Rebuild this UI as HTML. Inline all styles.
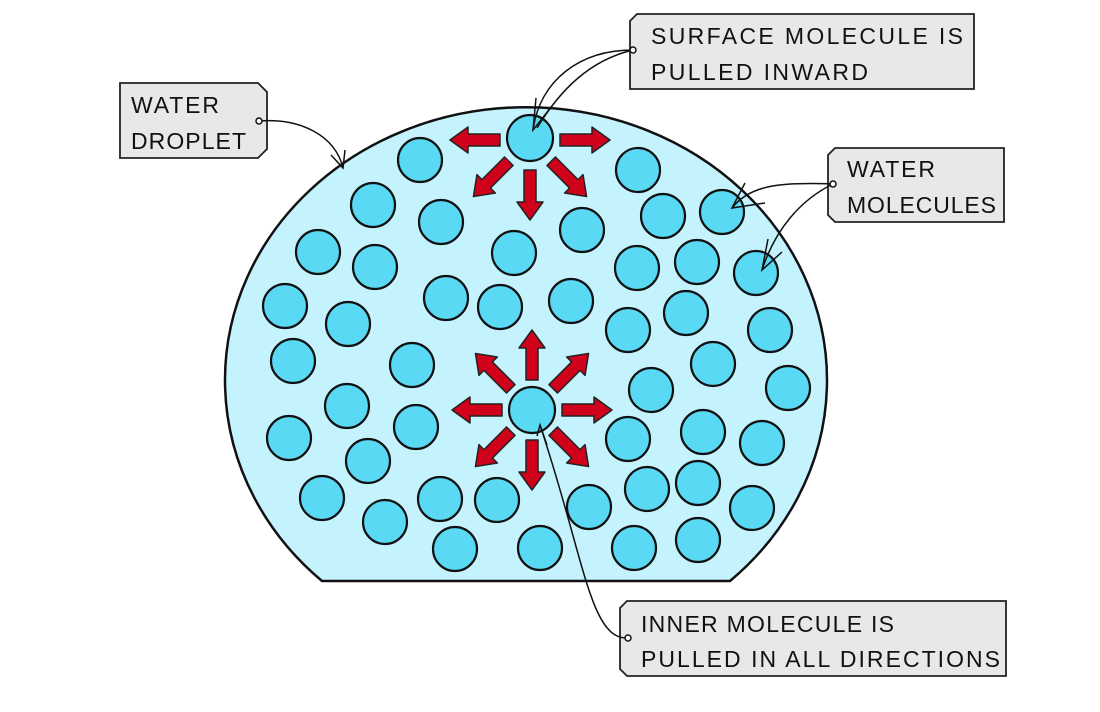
<!DOCTYPE html>
<html><head><meta charset="utf-8"><style>
html,body{margin:0;padding:0;background:#fff;}
svg{display:block;}
text{font-family:"Liberation Sans",sans-serif;font-size:23px;fill:#111;}
</style></head><body>
<svg width="1100" height="712" viewBox="0 0 1100 712" xmlns="http://www.w3.org/2000/svg">
<defs>
<g id="ar"><polygon points="30,-6 62,-6 62,-13 80,0 62,13 62,6 30,6" fill="#d0021b" stroke="#222" stroke-width="1.5" stroke-linejoin="round"/></g>
</defs>
<path d="M322,581 A301,273 0 1 1 730,581 Z" fill="#c4f3fd" stroke="#111" stroke-width="2.5"/>
<g fill="#5ad9f4" stroke="#111" stroke-width="2.2">
<circle cx="530" cy="138" r="23"/><circle cx="532" cy="410" r="23"/>
<circle cx="420" cy="160" r="22"/><circle cx="373" cy="205" r="22"/><circle cx="441" cy="222" r="22"/>
<circle cx="318" cy="252" r="22"/><circle cx="375" cy="267" r="22"/><circle cx="285" cy="306" r="22"/>
<circle cx="348" cy="324" r="22"/><circle cx="293" cy="361" r="22"/><circle cx="412" cy="365" r="22"/>
<circle cx="347" cy="406" r="22"/><circle cx="289" cy="438" r="22"/><circle cx="416" cy="427" r="22"/>
<circle cx="368" cy="461" r="22"/><circle cx="322" cy="498" r="22"/><circle cx="385" cy="522" r="22"/>
<circle cx="440" cy="499" r="22"/><circle cx="455" cy="549" r="22"/><circle cx="497" cy="500" r="22"/>
<circle cx="540" cy="548" r="22"/><circle cx="589" cy="507" r="22"/><circle cx="634" cy="548" r="22"/>
<circle cx="698" cy="540" r="22"/><circle cx="647" cy="489" r="22"/><circle cx="698" cy="483" r="22"/>
<circle cx="752" cy="508" r="22"/><circle cx="628" cy="439" r="22"/><circle cx="703" cy="432" r="22"/>
<circle cx="762" cy="443" r="22"/><circle cx="651" cy="390" r="22"/><circle cx="713" cy="364" r="22"/>
<circle cx="788" cy="388" r="22"/><circle cx="628" cy="330" r="22"/><circle cx="686" cy="313" r="22"/>
<circle cx="770" cy="330" r="22"/><circle cx="637" cy="268" r="22"/><circle cx="697" cy="262" r="22"/>
<circle cx="756" cy="273" r="22"/><circle cx="663" cy="216" r="22"/><circle cx="722" cy="212" r="22"/>
<circle cx="638" cy="170" r="22"/><circle cx="582" cy="230" r="22"/><circle cx="514" cy="253" r="22"/>
<circle cx="446" cy="298" r="22"/><circle cx="500" cy="307" r="22"/><circle cx="571" cy="301" r="22"/>
</g>
<g transform="translate(530,140)">
<use href="#ar" transform="rotate(0)"/><use href="#ar" transform="rotate(180)"/>
<use href="#ar" transform="rotate(90)"/><use href="#ar" transform="rotate(45)"/><use href="#ar" transform="rotate(135)"/>
</g>
<g transform="translate(532,410)">
<use href="#ar" transform="rotate(0)"/><use href="#ar" transform="rotate(45)"/><use href="#ar" transform="rotate(90)"/>
<use href="#ar" transform="rotate(135)"/><use href="#ar" transform="rotate(180)"/><use href="#ar" transform="rotate(225)"/>
<use href="#ar" transform="rotate(270)"/><use href="#ar" transform="rotate(315)"/>
</g>
<g fill="#e8e8e8" stroke="#222" stroke-width="1.8">
<polygon points="120,83 258,83 267,92 267,149 258,158 120,158"/>
<polygon points="637,14 974,14 974,89 630,89 630,21"/>
<polygon points="835,148 1004,148 1004,222 835,222 828,215 828,155"/>
<polygon points="627,601 1006,601 1006,676 627,676 620,669 620,608"/>
</g>
<g fill="none" stroke="#111" stroke-width="1.5">
<path d="M259,121 C300,118 335,135 343,168"/><path d="M331,155 L343,168 L345,150"/>
<path d="M633,50 C580,50 540,80 533,130"/><path d="M633,50 C590,60 560,90 537,128"/>
<path d="M536,98 L533,130 L552,106"/>
<path d="M833,184 C780,182 750,185 732,208"/><path d="M745,183 L732,208 L765,203"/>
<path d="M833,184 C800,200 775,230 762,270"/><path d="M768,239 L762,270 L782,252"/>
<path d="M628,638 C590,640 585,560 540,425"/><path d="M537,436 L540,425 L547,445"/>
</g>
<g fill="#fff" stroke="#111" stroke-width="1.5">
<circle cx="259" cy="121" r="3"/><circle cx="633" cy="50" r="3"/><circle cx="833" cy="184" r="3"/><circle cx="628" cy="638" r="3"/>
</g>
<text x="131" y="113" textLength="88">WATER</text>
<text x="131" y="149" textLength="115">DROPLET</text>
<text x="651" y="44" textLength="312">SURFACE  MOLECULE  IS</text>
<text x="651" y="80" textLength="217">PULLED  INWARD</text>
<text x="847" y="177" textLength="88">WATER</text>
<text x="847" y="213" textLength="149">MOLECULES</text>
<text x="641" y="632" textLength="253">INNER  MOLECULE  IS</text>
<text x="641" y="667" textLength="359">PULLED  IN  ALL  DIRECTIONS</text>
</svg>
</body></html>
